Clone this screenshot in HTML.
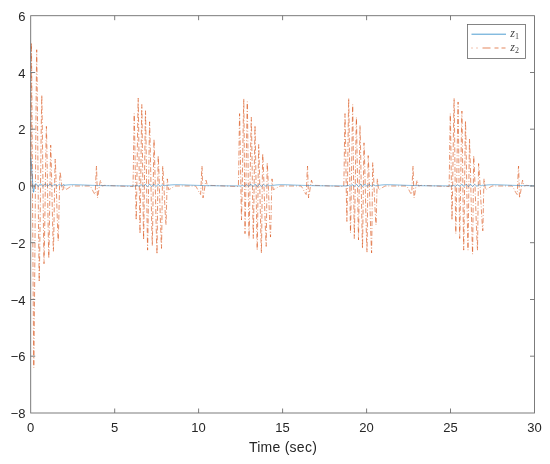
<!DOCTYPE html>
<html><head><meta charset="utf-8"><title>Figure</title>
<style>html,body{margin:0;padding:0;background:#fff;width:550px;height:464px;overflow:hidden}</style>
</head><body>
<svg width="550" height="464" viewBox="0 0 550 464" style="position:absolute;left:0;top:0">
<rect x="0" y="0" width="550" height="464" fill="#fff"/>
<g fill="none" stroke-linejoin="round">
<path d="M31.00 185.97 L31.20 114.32 L31.40 42.66 L31.67 69.56 L31.93 102.90 L32.20 141.49 L32.47 183.52 L32.73 226.73 L33.00 268.76 L33.27 307.36 L33.53 340.70 L33.80 367.59 L34.06 346.56 L34.33 321.20 L34.59 292.05 L34.85 259.95 L35.12 225.98 L35.38 191.37 L35.65 157.40 L35.91 125.30 L36.17 96.15 L36.44 70.79 L36.70 49.75 L36.95 66.83 L37.20 87.69 L37.45 111.77 L37.70 138.18 L37.95 165.82 L38.20 193.47 L38.45 219.88 L38.70 243.95 L38.95 264.81 L39.20 281.89 L39.46 268.15 L39.72 251.38 L39.98 232.01 L40.24 210.76 L40.50 188.53 L40.76 166.29 L41.02 145.04 L41.28 125.68 L41.54 108.90 L41.80 95.16 L42.07 111.10 L42.35 131.19 L42.62 154.46 L42.90 179.44 L43.17 204.43 L43.45 227.70 L43.73 247.79 L44.00 263.73 L44.27 252.36 L44.53 238.27 L44.80 221.95 L45.07 204.19 L45.33 185.92 L45.60 168.15 L45.87 151.84 L46.13 137.75 L46.40 126.38 L46.67 137.30 L46.93 150.84 L47.20 166.51 L47.47 183.58 L47.73 201.13 L48.00 218.20 L48.27 233.87 L48.53 247.41 L48.80 258.34 L49.07 245.86 L49.34 229.85 L49.61 211.39 L49.89 192.06 L50.16 173.60 L50.43 157.58 L50.70 145.11 L50.97 152.91 L51.24 162.45 L51.51 173.46 L51.78 185.54 L52.05 198.17 L52.32 210.81 L52.59 222.89 L52.86 233.90 L53.13 243.43 L53.40 251.24 L53.66 241.08 L53.91 228.04 L54.17 213.00 L54.43 197.25 L54.69 182.22 L54.94 169.17 L55.20 159.01 L55.45 163.94 L55.70 169.82 L55.95 176.54 L56.20 183.96 L56.45 191.86 L56.70 200.02 L56.95 208.18 L57.20 216.08 L57.45 223.49 L57.70 230.22 L57.95 236.09 L58.20 241.03 L58.46 233.40 L58.71 223.60 L58.97 212.32 L59.23 200.49 L59.49 189.20 L59.74 179.41 L60.00 171.78 L60.26 173.20 L60.52 174.94 L60.78 176.94 L61.04 179.13 L61.30 181.43 L61.56 183.73 L61.82 185.92 L62.08 187.93 L62.34 189.66 L62.60 191.08 L62.88 190.15 L63.16 188.92 L63.44 187.57 L63.72 186.33 L64.00 185.40 L64.25 185.96 L64.50 186.70 L64.75 187.53 L65.00 188.37 L65.25 189.10 L65.50 189.66 L65.75 189.56 L66.00 189.46 L66.25 189.34 L66.50 189.22 L66.75 189.09 L67.00 188.94 L67.25 188.80 L67.50 188.64 L67.75 188.48 L68.00 188.32 L68.25 188.16 L68.50 187.99 L68.75 187.82 L69.00 187.65 L69.25 187.48 L69.50 187.31 L69.75 187.15 L70.00 186.99 L70.25 186.83 L70.50 186.69 L70.75 186.55 L71.00 186.41 L71.25 186.29 L71.50 186.17 L71.75 186.07 L72.00 185.97 L72.25 185.97 L72.51 185.97 L72.76 185.97 L73.01 185.97 L73.27 185.97 L73.52 185.97 L73.77 185.97 L74.03 185.97 L74.28 185.97 L74.53 185.97 L74.79 185.97 L75.04 185.97 L75.29 185.97 L75.55 185.97 L75.80 185.97 L76.05 185.97 L76.31 185.97 L76.56 185.97 L76.81 185.97 L77.07 185.97 L77.32 185.97 L77.57 185.97 L77.83 185.97 L78.08 185.97 L78.33 185.97 L78.59 185.97 L78.84 185.97 L79.09 185.97 L79.35 185.97 L79.60 185.97 L79.85 185.97 L80.11 185.97 L80.36 185.97 L80.61 185.97 L80.87 185.97 L81.12 185.97 L81.37 185.97 L81.63 185.97 L81.88 185.97 L82.13 185.97 L82.39 185.97 L82.64 185.97 L82.89 185.97 L83.15 185.97 L83.40 185.97 L83.65 185.97 L83.91 185.97 L84.16 185.97 L84.41 185.97 L84.67 185.97 L84.92 185.97 L85.17 185.97 L85.42 185.97 L85.68 185.97 L85.93 185.97 L86.18 185.97 L86.44 185.97 L86.69 185.97 L86.94 185.97 L87.20 185.97 L87.45 185.97 L87.70 185.97 L87.96 185.97 L88.21 185.97 L88.46 185.97 L88.72 185.97 L88.97 185.97 L89.22 185.97 L89.48 185.97 L89.73 185.97 L89.98 185.97 L90.24 186.27 L90.49 186.60 L90.75 186.96 L91.00 187.36 L91.26 187.79 L91.51 188.25 L91.77 188.72 L92.02 189.21 L92.28 189.72 L92.53 190.23 L92.79 190.74 L93.04 191.24 L93.30 191.73 L93.55 192.21 L93.81 192.67 L94.06 193.09 L94.32 193.49 L94.57 193.86 L94.83 194.19 L95.08 194.48 L95.36 189.85 L95.64 183.67 L95.92 176.92 L96.20 170.74 L96.48 166.11 L96.73 172.90 L96.98 182.00 L97.23 191.10 L97.48 197.89 L97.73 196.83 L97.98 195.57 L98.23 194.13 L98.48 192.54 L98.73 190.84 L98.98 189.09 L99.23 187.34 L99.48 185.65 L99.73 184.06 L99.98 182.61 L100.23 181.35 L100.48 180.30 L100.73 181.04 L100.98 182.02 L101.23 183.13 L101.48 184.25 L101.73 185.22 L101.98 185.97 L102.23 185.93 L102.48 185.88 L102.73 185.82 L102.98 185.76 L103.23 185.69 L103.48 185.62 L103.73 185.56 L103.98 185.50 L104.23 185.45 L104.48 185.40 L104.73 185.41 L104.98 185.42 L105.23 185.42 L105.48 185.43 L105.74 185.44 L105.99 185.45 L106.24 185.45 L106.49 185.46 L106.74 185.47 L106.99 185.48 L107.24 185.48 L107.49 185.49 L107.74 185.50 L107.99 185.51 L108.24 185.52 L108.49 185.53 L108.74 185.54 L108.99 185.54 L109.24 185.55 L109.49 185.56 L109.74 185.57 L109.99 185.58 L110.24 185.59 L110.49 185.60 L110.74 185.61 L110.99 185.62 L111.24 185.63 L111.49 185.64 L111.74 185.65 L111.99 185.66 L112.24 185.67 L112.49 185.68 L112.74 185.69 L112.99 185.70 L113.24 185.72 L113.49 185.73 L113.74 185.74 L113.99 185.75 L114.24 185.76 L114.49 185.77 L114.74 185.78 L114.99 185.79 L115.24 185.81 L115.49 185.82 L115.74 185.83 L115.99 185.84 L116.24 185.85 L116.49 185.86 L116.74 185.88 L116.99 185.89 L117.24 185.90 L117.49 185.91 L117.74 185.92 L117.99 185.94 L118.24 185.95 L118.49 185.96 L118.74 185.97 L118.99 185.98 L119.24 186.00 L119.49 186.01 L119.74 186.02 L119.99 186.03 L120.24 186.04 L120.49 186.05 L120.74 186.07 L120.99 186.08 L121.24 186.09 L121.49 186.10 L121.74 186.11 L121.99 186.13 L122.24 186.14 L122.49 186.15 L122.74 186.16 L122.99 186.17 L123.24 186.18 L123.49 186.19 L123.74 186.20 L124.00 186.22 L124.25 186.23 L124.50 186.24 L124.75 186.25 L125.00 186.26 L125.25 186.27 L125.50 186.28 L125.75 186.29 L126.00 186.30 L126.25 186.31 L126.50 186.32 L126.75 186.33 L127.00 186.34 L127.25 186.35 L127.50 186.36 L127.75 186.37 L128.00 186.38 L128.25 186.39 L128.50 186.40 L128.75 186.41 L129.00 186.42 L129.25 186.43 L129.50 186.43 L129.75 186.44 L130.00 186.45 L130.25 186.46 L130.50 186.47 L130.75 186.47 L131.00 186.48 L131.25 186.49 L131.50 186.50 L131.75 186.50 L132.00 186.51 L132.25 186.52 L132.50 186.53 L132.75 186.53 L133.00 186.54 L133.30 170.95 L133.60 150.07 L133.90 129.20 L134.20 113.61 L134.45 123.67 L134.70 136.35 L134.95 151.04 L135.20 166.82 L135.45 182.59 L135.70 197.28 L135.95 209.96 L136.20 220.03 L136.45 208.49 L136.70 193.94 L136.95 177.10 L137.20 159.01 L137.45 140.92 L137.70 124.08 L137.95 109.54 L138.20 98.00 L138.46 112.94 L138.71 132.13 L138.97 154.24 L139.23 177.40 L139.49 199.52 L139.74 218.70 L140.00 233.65 L140.26 219.42 L140.51 201.16 L140.77 180.11 L141.03 158.06 L141.29 137.01 L141.54 118.75 L141.80 104.52 L142.06 119.44 L142.31 138.58 L142.57 160.65 L142.83 183.76 L143.09 205.83 L143.34 224.98 L143.60 239.89 L143.87 225.66 L144.14 207.40 L144.41 186.35 L144.69 164.31 L144.96 143.26 L145.23 125.00 L145.50 110.77 L145.76 123.95 L146.03 140.55 L146.29 159.78 L146.55 180.44 L146.81 201.09 L147.07 220.32 L147.34 236.93 L147.60 250.11 L147.85 237.98 L148.10 222.69 L148.35 204.98 L148.60 185.97 L148.85 166.96 L149.10 149.25 L149.35 133.97 L149.60 121.84 L149.87 130.94 L150.14 142.06 L150.41 154.89 L150.68 168.97 L150.95 183.70 L151.22 198.43 L151.49 212.51 L151.76 225.35 L152.03 236.46 L152.30 245.57 L152.58 231.54 L152.87 213.20 L153.15 192.36 L153.43 171.52 L153.72 153.17 L154.00 139.15 L154.25 146.06 L154.50 154.29 L154.75 163.71 L155.00 174.11 L155.25 185.18 L155.50 196.61 L155.75 208.04 L156.00 219.12 L156.25 229.51 L156.50 238.93 L156.75 247.17 L157.00 254.08 L157.30 233.03 L157.60 204.84 L157.90 176.66 L158.20 155.61 L158.45 160.72 L158.71 166.75 L158.96 173.61 L159.22 181.18 L159.47 189.29 L159.72 197.73 L159.98 206.28 L160.23 214.72 L160.48 222.83 L160.74 230.40 L160.99 237.26 L161.25 243.29 L161.50 248.40 L161.80 230.81 L162.10 207.26 L162.40 183.70 L162.70 166.11 L162.95 169.33 L163.21 173.12 L163.46 177.45 L163.72 182.22 L163.97 187.32 L164.22 192.64 L164.48 198.03 L164.73 203.35 L164.98 208.46 L165.24 213.22 L165.49 217.55 L165.75 221.35 L166.00 224.57 L166.26 217.10 L166.52 207.16 L166.78 196.28 L167.04 186.34 L167.30 178.88 L167.56 180.64 L167.82 182.98 L168.08 185.55 L168.34 187.90 L168.60 189.66 L168.86 189.57 L169.11 189.47 L169.37 189.36 L169.62 189.24 L169.88 189.11 L170.13 188.98 L170.39 188.84 L170.64 188.69 L170.90 188.54 L171.16 188.38 L171.41 188.22 L171.67 188.06 L171.92 187.90 L172.18 187.73 L172.43 187.57 L172.69 187.41 L172.94 187.25 L173.20 187.09 L173.46 186.94 L173.71 186.80 L173.97 186.66 L174.22 186.52 L174.48 186.40 L174.73 186.28 L174.99 186.17 L175.24 186.06 L175.50 185.97 L175.75 185.97 L176.00 185.97 L176.25 185.97 L176.50 185.97 L176.75 185.97 L177.00 185.97 L177.25 185.97 L177.50 185.97 L177.75 185.97 L178.00 185.97 L178.25 185.97 L178.50 185.97 L178.75 185.97 L179.00 185.97 L179.25 185.97 L179.50 185.97 L179.75 185.97 L180.00 185.97 L180.25 185.97 L180.50 185.97 L180.75 185.97 L181.00 185.97 L181.25 185.97 L181.50 185.97 L181.75 185.97 L182.00 185.97 L182.25 185.97 L182.50 185.97 L182.75 185.97 L183.00 185.97 L183.25 185.97 L183.50 185.97 L183.75 185.97 L184.00 185.97 L184.25 185.97 L184.50 185.97 L184.75 185.97 L185.00 185.97 L185.25 185.97 L185.50 185.97 L185.75 185.97 L186.00 185.97 L186.25 185.97 L186.50 185.97 L186.75 185.97 L187.00 185.97 L187.25 185.97 L187.50 185.97 L187.75 185.97 L188.00 185.97 L188.25 185.97 L188.50 185.97 L188.75 185.97 L189.00 185.97 L189.25 185.97 L189.50 185.97 L189.75 185.97 L190.00 185.97 L190.25 185.97 L190.50 185.97 L190.75 185.97 L191.00 185.97 L191.25 185.97 L191.50 185.97 L191.75 185.97 L192.00 185.97 L192.25 185.97 L192.50 185.97 L192.75 185.97 L193.00 185.97 L193.25 185.97 L193.50 185.97 L193.75 185.97 L194.00 185.97 L194.25 185.97 L194.50 185.97 L194.75 185.97 L195.00 185.97 L195.25 185.97 L195.50 185.97 L195.75 186.27 L196.01 186.60 L196.26 186.96 L196.52 187.36 L196.78 187.79 L197.03 188.25 L197.28 188.72 L197.54 189.21 L197.79 189.72 L198.05 190.23 L198.31 190.74 L198.56 191.24 L198.81 191.73 L199.07 192.21 L199.32 192.67 L199.58 193.09 L199.84 193.49 L200.09 193.86 L200.34 194.19 L200.60 194.48 L200.88 189.85 L201.16 183.67 L201.44 176.92 L201.72 170.74 L202.00 166.11 L202.25 172.90 L202.50 182.00 L202.75 191.10 L203.00 197.89 L203.25 196.83 L203.50 195.57 L203.75 194.13 L204.00 192.54 L204.25 190.84 L204.50 189.09 L204.75 187.34 L205.00 185.65 L205.25 184.06 L205.50 182.61 L205.75 181.35 L206.00 180.30 L206.25 181.04 L206.50 182.02 L206.75 183.13 L207.00 184.25 L207.25 185.22 L207.50 185.97 L207.75 185.93 L208.00 185.88 L208.25 185.82 L208.50 185.76 L208.75 185.69 L209.00 185.62 L209.25 185.56 L209.50 185.50 L209.75 185.45 L210.00 185.40 L210.25 185.41 L210.50 185.42 L210.75 185.42 L211.01 185.43 L211.26 185.44 L211.51 185.45 L211.76 185.45 L212.01 185.46 L212.26 185.47 L212.51 185.48 L212.76 185.48 L213.02 185.49 L213.27 185.50 L213.52 185.51 L213.77 185.52 L214.02 185.53 L214.27 185.54 L214.52 185.55 L214.78 185.55 L215.03 185.56 L215.28 185.57 L215.53 185.58 L215.78 185.59 L216.03 185.60 L216.28 185.61 L216.53 185.62 L216.79 185.63 L217.04 185.64 L217.29 185.65 L217.54 185.66 L217.79 185.68 L218.04 185.69 L218.29 185.70 L218.55 185.71 L218.80 185.72 L219.05 185.73 L219.30 185.74 L219.55 185.75 L219.80 185.76 L220.05 185.78 L220.30 185.79 L220.56 185.80 L220.81 185.81 L221.06 185.82 L221.31 185.83 L221.56 185.85 L221.81 185.86 L222.06 185.87 L222.32 185.88 L222.57 185.89 L222.82 185.91 L223.07 185.92 L223.32 185.93 L223.57 185.94 L223.82 185.95 L224.07 185.97 L224.33 185.98 L224.58 185.99 L224.83 186.00 L225.08 186.01 L225.33 186.03 L225.58 186.04 L225.83 186.05 L226.08 186.06 L226.34 186.07 L226.59 186.09 L226.84 186.10 L227.09 186.11 L227.34 186.12 L227.59 186.13 L227.84 186.14 L228.10 186.16 L228.35 186.17 L228.60 186.18 L228.85 186.19 L229.10 186.20 L229.35 186.21 L229.60 186.22 L229.85 186.23 L230.11 186.25 L230.36 186.26 L230.61 186.27 L230.86 186.28 L231.11 186.29 L231.36 186.30 L231.61 186.31 L231.87 186.32 L232.12 186.33 L232.37 186.34 L232.62 186.35 L232.87 186.36 L233.12 186.37 L233.37 186.38 L233.62 186.39 L233.88 186.40 L234.13 186.41 L234.38 186.42 L234.63 186.42 L234.88 186.43 L235.13 186.44 L235.38 186.45 L235.64 186.46 L235.89 186.47 L236.14 186.47 L236.39 186.48 L236.64 186.49 L236.89 186.50 L237.14 186.50 L237.39 186.51 L237.65 186.52 L237.90 186.53 L238.15 186.53 L238.40 186.54 L238.70 170.95 L239.00 150.07 L239.30 129.20 L239.60 113.61 L239.87 125.33 L240.14 140.38 L240.41 157.73 L240.69 175.90 L240.96 193.25 L241.23 208.30 L241.50 220.03 L241.76 210.00 L242.01 197.56 L242.27 183.17 L242.52 167.50 L242.78 151.38 L243.03 135.71 L243.29 121.31 L243.54 108.88 L243.80 98.85 L244.10 127.66 L244.40 166.25 L244.70 204.83 L245.00 233.65 L245.26 222.72 L245.51 209.18 L245.77 193.51 L246.02 176.44 L246.28 158.89 L246.53 141.83 L246.79 126.15 L247.04 112.61 L247.30 101.69 L247.58 119.71 L247.87 143.29 L248.15 170.08 L248.43 196.87 L248.72 220.45 L249.00 238.47 L249.26 228.44 L249.51 216.01 L249.77 201.61 L250.02 185.94 L250.28 169.83 L250.53 154.15 L250.79 139.76 L251.04 127.33 L251.30 117.30 L251.55 128.76 L251.80 143.20 L252.05 159.92 L252.30 177.88 L252.55 195.84 L252.80 212.57 L253.05 227.01 L253.30 238.47 L253.58 223.59 L253.87 204.12 L254.15 182.00 L254.43 159.88 L254.72 140.41 L255.00 125.53 L255.28 137.31 L255.55 152.16 L255.82 169.35 L256.10 187.82 L256.38 206.28 L256.65 223.48 L256.93 238.33 L257.20 250.11 L257.45 236.20 L257.70 218.00 L257.95 197.32 L258.20 176.65 L258.45 158.45 L258.70 144.54 L258.97 152.51 L259.24 162.25 L259.51 173.50 L259.78 185.83 L260.05 198.74 L260.32 211.65 L260.59 223.99 L260.86 235.23 L261.13 244.97 L261.40 252.94 L261.66 236.71 L261.92 215.11 L262.18 191.45 L262.44 169.85 L262.70 153.62 L262.95 158.34 L263.20 163.85 L263.45 170.09 L263.70 176.97 L263.95 184.36 L264.20 192.10 L264.45 200.02 L264.70 207.94 L264.95 215.68 L265.20 223.07 L265.45 229.95 L265.70 236.19 L265.95 241.70 L266.20 246.42 L266.45 228.52 L266.70 204.56 L266.95 180.60 L267.20 162.70 L267.45 166.80 L267.71 171.63 L267.96 177.13 L268.22 183.19 L268.47 189.69 L268.72 196.45 L268.98 203.30 L269.23 210.07 L269.48 216.56 L269.74 222.63 L269.99 228.13 L270.25 232.96 L270.50 237.05 L270.75 229.39 L271.00 219.36 L271.25 207.96 L271.50 196.57 L271.75 186.54 L272.00 178.88 L272.26 180.64 L272.52 182.98 L272.78 185.55 L273.04 187.90 L273.30 189.66 L273.56 189.57 L273.81 189.47 L274.07 189.37 L274.33 189.25 L274.59 189.13 L274.84 189.01 L275.10 188.87 L275.36 188.73 L275.61 188.59 L275.87 188.44 L276.13 188.29 L276.39 188.13 L276.64 187.97 L276.90 187.82 L277.16 187.66 L277.41 187.50 L277.67 187.35 L277.93 187.19 L278.19 187.04 L278.44 186.90 L278.70 186.76 L278.96 186.63 L279.21 186.50 L279.47 186.38 L279.73 186.26 L279.99 186.16 L280.24 186.06 L280.50 185.97 L280.75 185.97 L281.00 185.97 L281.25 185.97 L281.50 185.97 L281.75 185.97 L282.00 185.97 L282.25 185.97 L282.50 185.97 L282.75 185.97 L283.00 185.97 L283.25 185.97 L283.50 185.97 L283.75 185.97 L284.00 185.97 L284.25 185.97 L284.50 185.97 L284.75 185.97 L285.00 185.97 L285.25 185.97 L285.50 185.97 L285.75 185.97 L286.00 185.97 L286.25 185.97 L286.50 185.97 L286.75 185.97 L287.00 185.97 L287.26 185.97 L287.51 185.97 L287.76 185.97 L288.01 185.97 L288.26 185.97 L288.51 185.97 L288.76 185.97 L289.01 185.97 L289.26 185.97 L289.51 185.97 L289.76 185.97 L290.01 185.97 L290.26 185.97 L290.51 185.97 L290.76 185.97 L291.01 185.97 L291.26 185.97 L291.51 185.97 L291.76 185.97 L292.01 185.97 L292.26 185.97 L292.51 185.97 L292.76 185.97 L293.01 185.97 L293.26 185.97 L293.51 185.97 L293.76 185.97 L294.01 185.97 L294.26 185.97 L294.51 185.97 L294.76 185.97 L295.01 185.97 L295.26 185.97 L295.51 185.97 L295.76 185.97 L296.01 185.97 L296.26 185.97 L296.51 185.97 L296.76 185.97 L297.01 185.97 L297.26 185.97 L297.51 185.97 L297.76 185.97 L298.01 185.97 L298.26 185.97 L298.51 185.97 L298.76 185.97 L299.01 185.97 L299.26 185.97 L299.51 185.97 L299.76 185.97 L300.01 185.97 L300.27 185.97 L300.52 185.97 L300.77 185.97 L301.02 185.97 L301.27 186.27 L301.53 186.60 L301.78 186.96 L302.04 187.36 L302.29 187.79 L302.55 188.25 L302.80 188.72 L303.06 189.21 L303.31 189.72 L303.57 190.23 L303.82 190.74 L304.08 191.24 L304.33 191.73 L304.59 192.21 L304.84 192.67 L305.10 193.09 L305.35 193.49 L305.61 193.86 L305.86 194.19 L306.12 194.48 L306.40 189.85 L306.68 183.67 L306.96 176.92 L307.24 170.74 L307.52 166.11 L307.77 172.90 L308.02 182.00 L308.27 191.10 L308.52 197.89 L308.77 196.83 L309.02 195.57 L309.27 194.13 L309.52 192.54 L309.77 190.84 L310.02 189.09 L310.27 187.34 L310.52 185.65 L310.77 184.06 L311.02 182.61 L311.27 181.35 L311.52 180.30 L311.77 181.04 L312.02 182.02 L312.27 183.13 L312.52 184.25 L312.77 185.22 L313.02 185.97 L313.27 185.93 L313.52 185.88 L313.77 185.82 L314.02 185.76 L314.27 185.69 L314.52 185.62 L314.77 185.56 L315.02 185.50 L315.27 185.45 L315.52 185.40 L315.77 185.41 L316.02 185.42 L316.27 185.42 L316.52 185.43 L316.77 185.44 L317.02 185.45 L317.27 185.45 L317.52 185.46 L317.77 185.47 L318.02 185.48 L318.27 185.48 L318.52 185.49 L318.77 185.50 L319.02 185.51 L319.27 185.52 L319.52 185.53 L319.77 185.54 L320.02 185.55 L320.27 185.55 L320.52 185.56 L320.77 185.57 L321.02 185.58 L321.27 185.59 L321.52 185.60 L321.77 185.61 L322.02 185.62 L322.27 185.63 L322.52 185.64 L322.77 185.65 L323.02 185.66 L323.28 185.68 L323.53 185.69 L323.78 185.70 L324.03 185.71 L324.28 185.72 L324.53 185.73 L324.78 185.74 L325.03 185.75 L325.28 185.76 L325.53 185.78 L325.78 185.79 L326.03 185.80 L326.28 185.81 L326.53 185.82 L326.78 185.83 L327.03 185.85 L327.28 185.86 L327.53 185.87 L327.78 185.88 L328.03 185.89 L328.28 185.91 L328.53 185.92 L328.78 185.93 L329.03 185.94 L329.28 185.95 L329.53 185.97 L329.78 185.98 L330.03 185.99 L330.28 186.00 L330.53 186.01 L330.78 186.03 L331.03 186.04 L331.28 186.05 L331.54 186.06 L331.79 186.07 L332.04 186.09 L332.29 186.10 L332.54 186.11 L332.79 186.12 L333.04 186.13 L333.29 186.14 L333.54 186.16 L333.79 186.17 L334.04 186.18 L334.29 186.19 L334.54 186.20 L334.79 186.21 L335.04 186.22 L335.29 186.23 L335.54 186.25 L335.79 186.26 L336.04 186.27 L336.29 186.28 L336.54 186.29 L336.79 186.30 L337.04 186.31 L337.29 186.32 L337.54 186.33 L337.79 186.34 L338.04 186.35 L338.29 186.36 L338.54 186.37 L338.79 186.38 L339.04 186.39 L339.29 186.40 L339.54 186.41 L339.80 186.42 L340.05 186.42 L340.30 186.43 L340.55 186.44 L340.80 186.45 L341.05 186.46 L341.30 186.47 L341.55 186.47 L341.80 186.48 L342.05 186.49 L342.30 186.50 L342.55 186.50 L342.80 186.51 L343.05 186.52 L343.30 186.53 L343.55 186.53 L343.80 186.54 L344.10 170.95 L344.40 150.07 L344.70 129.20 L345.00 113.61 L345.27 125.49 L345.54 140.74 L345.81 158.32 L346.09 176.73 L346.36 194.31 L346.63 209.56 L346.90 221.44 L347.16 207.87 L347.41 190.46 L347.67 170.38 L347.93 149.35 L348.19 129.27 L348.44 111.85 L348.70 98.28 L348.96 113.10 L349.21 132.13 L349.47 154.06 L349.73 177.02 L349.99 198.95 L350.24 217.97 L350.50 232.80 L350.77 220.67 L351.05 205.38 L351.32 187.67 L351.60 168.66 L351.88 149.65 L352.15 131.94 L352.43 116.66 L352.70 104.52 L352.97 122.18 L353.23 145.27 L353.50 171.50 L353.77 197.73 L354.03 220.82 L354.30 238.47 L354.56 227.01 L354.82 212.57 L355.09 195.84 L355.35 177.88 L355.61 159.92 L355.88 143.20 L356.14 128.76 L356.40 117.30 L356.66 128.89 L356.92 143.50 L357.19 160.42 L357.45 178.59 L357.71 196.76 L357.98 213.69 L358.24 228.30 L358.50 239.89 L358.75 224.82 L359.00 205.10 L359.25 182.71 L359.50 160.31 L359.75 140.60 L360.00 125.53 L360.25 134.56 L360.50 145.61 L360.75 158.35 L361.00 172.33 L361.25 186.96 L361.50 201.60 L361.75 215.58 L362.00 228.32 L362.25 239.36 L362.50 248.40 L362.75 234.49 L363.00 216.29 L363.25 195.62 L363.50 174.95 L363.75 156.75 L364.00 142.84 L364.25 149.41 L364.50 157.23 L364.75 166.19 L365.00 176.07 L365.25 186.60 L365.50 197.46 L365.75 208.33 L366.00 218.86 L366.25 228.74 L366.50 237.70 L366.75 245.52 L367.00 252.09 L367.30 231.47 L367.60 203.85 L367.90 176.23 L368.20 155.61 L368.46 160.97 L368.72 167.29 L368.98 174.49 L369.25 182.43 L369.51 190.93 L369.77 199.79 L370.03 208.76 L370.29 217.62 L370.55 226.12 L370.82 234.06 L371.08 241.26 L371.34 247.58 L371.60 252.94 L371.88 233.65 L372.15 207.82 L372.43 181.99 L372.70 162.70 L372.95 166.12 L373.21 170.16 L373.46 174.76 L373.72 179.83 L373.97 185.26 L374.22 190.91 L374.48 196.64 L374.73 202.29 L374.98 207.72 L375.24 212.79 L375.49 217.39 L375.75 221.43 L376.00 224.85 L376.26 217.34 L376.52 207.34 L376.78 196.39 L377.04 186.39 L377.30 178.88 L377.56 180.64 L377.82 182.98 L378.08 185.55 L378.34 187.90 L378.60 189.66 L378.86 189.57 L379.11 189.47 L379.37 189.36 L379.62 189.24 L379.88 189.11 L380.13 188.98 L380.39 188.84 L380.64 188.69 L380.90 188.54 L381.16 188.38 L381.41 188.22 L381.67 188.06 L381.92 187.90 L382.18 187.73 L382.43 187.57 L382.69 187.41 L382.94 187.25 L383.20 187.09 L383.46 186.94 L383.71 186.80 L383.97 186.66 L384.22 186.52 L384.48 186.40 L384.73 186.28 L384.99 186.17 L385.24 186.06 L385.50 185.97 L385.75 185.97 L386.00 185.97 L386.25 185.97 L386.50 185.97 L386.75 185.97 L387.00 185.97 L387.25 185.97 L387.50 185.97 L387.75 185.97 L388.00 185.97 L388.25 185.97 L388.50 185.97 L388.75 185.97 L389.01 185.97 L389.26 185.97 L389.51 185.97 L389.76 185.97 L390.01 185.97 L390.26 185.97 L390.51 185.97 L390.76 185.97 L391.01 185.97 L391.26 185.97 L391.51 185.97 L391.76 185.97 L392.01 185.97 L392.26 185.97 L392.51 185.97 L392.76 185.97 L393.01 185.97 L393.26 185.97 L393.51 185.97 L393.76 185.97 L394.01 185.97 L394.26 185.97 L394.51 185.97 L394.76 185.97 L395.01 185.97 L395.26 185.97 L395.51 185.97 L395.77 185.97 L396.02 185.97 L396.27 185.97 L396.52 185.97 L396.77 185.97 L397.02 185.97 L397.27 185.97 L397.52 185.97 L397.77 185.97 L398.02 185.97 L398.27 185.97 L398.52 185.97 L398.77 185.97 L399.02 185.97 L399.27 185.97 L399.52 185.97 L399.77 185.97 L400.02 185.97 L400.27 185.97 L400.52 185.97 L400.77 185.97 L401.02 185.97 L401.27 185.97 L401.52 185.97 L401.77 185.97 L402.02 185.97 L402.27 185.97 L402.53 185.97 L402.78 185.97 L403.03 185.97 L403.28 185.97 L403.53 185.97 L403.78 185.97 L404.03 185.97 L404.28 185.97 L404.53 185.97 L404.78 185.97 L405.03 185.97 L405.28 185.97 L405.53 185.97 L405.78 185.97 L406.03 185.97 L406.28 185.97 L406.53 185.97 L406.79 186.27 L407.04 186.60 L407.30 186.96 L407.55 187.36 L407.81 187.79 L408.06 188.25 L408.32 188.72 L408.57 189.21 L408.83 189.72 L409.08 190.23 L409.34 190.74 L409.59 191.24 L409.85 191.73 L410.10 192.21 L410.36 192.67 L410.61 193.09 L410.87 193.49 L411.12 193.86 L411.38 194.19 L411.63 194.48 L411.91 189.85 L412.19 183.67 L412.47 176.92 L412.75 170.74 L413.03 166.11 L413.28 172.90 L413.53 182.00 L413.78 191.10 L414.03 197.89 L414.28 196.83 L414.53 195.57 L414.78 194.13 L415.03 192.54 L415.28 190.84 L415.53 189.09 L415.78 187.34 L416.03 185.65 L416.28 184.06 L416.53 182.61 L416.78 181.35 L417.03 180.30 L417.28 181.04 L417.53 182.02 L417.78 183.13 L418.03 184.25 L418.28 185.22 L418.53 185.97 L418.78 185.93 L419.03 185.88 L419.28 185.82 L419.53 185.76 L419.78 185.69 L420.03 185.62 L420.28 185.56 L420.53 185.50 L420.78 185.45 L421.03 185.40 L421.28 185.41 L421.53 185.42 L421.78 185.42 L422.03 185.43 L422.28 185.44 L422.53 185.45 L422.79 185.45 L423.04 185.46 L423.29 185.47 L423.54 185.48 L423.79 185.49 L424.04 185.49 L424.29 185.50 L424.54 185.51 L424.79 185.52 L425.04 185.53 L425.29 185.54 L425.54 185.55 L425.79 185.56 L426.04 185.57 L426.29 185.58 L426.54 185.59 L426.80 185.60 L427.05 185.61 L427.30 185.62 L427.55 185.63 L427.80 185.64 L428.05 185.65 L428.30 185.66 L428.55 185.67 L428.80 185.68 L429.05 185.69 L429.30 185.70 L429.55 185.71 L429.80 185.72 L430.05 185.73 L430.30 185.75 L430.55 185.76 L430.81 185.77 L431.06 185.78 L431.31 185.79 L431.56 185.80 L431.81 185.81 L432.06 185.83 L432.31 185.84 L432.56 185.85 L432.81 185.86 L433.06 185.87 L433.31 185.89 L433.56 185.90 L433.81 185.91 L434.06 185.92 L434.31 185.93 L434.56 185.95 L434.82 185.96 L435.07 185.97 L435.32 185.98 L435.57 186.00 L435.82 186.01 L436.07 186.02 L436.32 186.03 L436.57 186.04 L436.82 186.06 L437.07 186.07 L437.32 186.08 L437.57 186.09 L437.82 186.10 L438.07 186.12 L438.32 186.13 L438.57 186.14 L438.82 186.15 L439.08 186.16 L439.33 186.17 L439.58 186.19 L439.83 186.20 L440.08 186.21 L440.33 186.22 L440.58 186.23 L440.83 186.24 L441.08 186.25 L441.33 186.26 L441.58 186.28 L441.83 186.29 L442.08 186.30 L442.33 186.31 L442.58 186.32 L442.83 186.33 L443.09 186.34 L443.34 186.35 L443.59 186.36 L443.84 186.37 L444.09 186.38 L444.34 186.39 L444.59 186.40 L444.84 186.40 L445.09 186.41 L445.34 186.42 L445.59 186.43 L445.84 186.44 L446.09 186.45 L446.34 186.46 L446.59 186.47 L446.84 186.47 L447.10 186.48 L447.35 186.49 L447.60 186.50 L447.85 186.50 L448.10 186.51 L448.35 186.52 L448.60 186.53 L448.85 186.53 L449.10 186.54 L449.40 170.95 L449.70 150.07 L450.00 129.20 L450.30 113.61 L450.58 127.63 L450.87 145.98 L451.15 166.82 L451.43 187.66 L451.72 206.00 L452.00 220.03 L452.26 208.51 L452.52 194.00 L452.79 177.20 L453.05 159.15 L453.31 141.11 L453.58 124.31 L453.84 109.80 L454.10 98.28 L454.38 116.12 L454.67 139.46 L454.95 165.96 L455.23 192.47 L455.52 215.81 L455.80 233.65 L456.06 222.75 L456.31 209.24 L456.57 193.60 L456.82 176.57 L457.08 159.05 L457.33 142.02 L457.59 126.38 L457.84 112.87 L458.10 101.97 L458.37 119.96 L458.63 143.49 L458.90 170.22 L459.17 196.95 L459.43 220.48 L459.70 238.47 L459.97 226.42 L460.25 211.24 L460.52 193.65 L460.80 174.76 L461.07 155.88 L461.35 138.29 L461.62 123.10 L461.90 111.05 L462.16 126.37 L462.41 146.04 L462.67 168.71 L462.93 192.45 L463.19 215.12 L463.44 234.78 L463.70 250.11 L463.96 235.88 L464.21 217.62 L464.47 196.57 L464.73 174.52 L464.99 153.47 L465.24 135.21 L465.50 120.98 L465.75 130.48 L466.00 142.09 L466.25 155.48 L466.50 170.17 L466.75 185.55 L467.00 200.92 L467.25 215.61 L467.50 229.01 L467.75 240.61 L468.00 250.11 L468.25 235.48 L468.50 216.36 L468.75 194.63 L469.00 172.90 L469.25 153.77 L469.50 139.15 L469.76 146.06 L470.02 154.29 L470.27 163.71 L470.53 174.11 L470.79 185.18 L471.05 196.61 L471.31 208.04 L471.57 219.12 L471.83 229.51 L472.08 238.93 L472.34 247.17 L472.60 254.08 L472.88 233.03 L473.15 204.84 L473.43 176.66 L473.70 155.61 L473.95 160.06 L474.21 165.23 L474.46 171.05 L474.71 177.46 L474.97 184.35 L475.22 191.60 L475.47 199.08 L475.73 206.63 L475.98 214.11 L476.23 221.36 L476.49 228.26 L476.74 234.66 L476.99 240.49 L477.25 245.65 L477.50 250.11 L477.77 231.61 L478.05 206.83 L478.33 182.05 L478.60 163.55 L478.86 166.51 L479.12 169.91 L479.39 173.73 L479.65 177.93 L479.91 182.44 L480.18 187.21 L480.44 192.15 L480.70 197.18 L480.96 202.21 L481.23 207.15 L481.49 211.92 L481.75 216.43 L482.01 220.63 L482.28 224.45 L482.54 227.85 L482.80 230.81 L483.10 219.71 L483.40 204.84 L483.70 189.98 L484.00 178.88 L484.25 180.30 L484.50 182.16 L484.75 184.27 L485.00 186.38 L485.25 188.24 L485.50 189.66 L485.75 189.57 L486.00 189.47 L486.25 189.37 L486.50 189.25 L486.75 189.13 L487.00 189.01 L487.25 188.87 L487.50 188.73 L487.75 188.59 L488.00 188.44 L488.25 188.29 L488.50 188.13 L488.75 187.97 L489.00 187.82 L489.25 187.66 L489.50 187.50 L489.75 187.35 L490.00 187.19 L490.25 187.04 L490.50 186.90 L490.75 186.76 L491.00 186.63 L491.25 186.50 L491.50 186.38 L491.75 186.26 L492.00 186.16 L492.25 186.06 L492.50 185.97 L492.75 185.97 L493.00 185.97 L493.25 185.97 L493.50 185.97 L493.75 185.97 L494.00 185.97 L494.25 185.97 L494.50 185.97 L494.76 185.97 L495.01 185.97 L495.26 185.97 L495.51 185.97 L495.76 185.97 L496.01 185.97 L496.26 185.97 L496.51 185.97 L496.76 185.97 L497.01 185.97 L497.26 185.97 L497.51 185.97 L497.76 185.97 L498.01 185.97 L498.26 185.97 L498.51 185.97 L498.77 185.97 L499.02 185.97 L499.27 185.97 L499.52 185.97 L499.77 185.97 L500.02 185.97 L500.27 185.97 L500.52 185.97 L500.77 185.97 L501.02 185.97 L501.27 185.97 L501.52 185.97 L501.77 185.97 L502.02 185.97 L502.27 185.97 L502.52 185.97 L502.77 185.97 L503.03 185.97 L503.28 185.97 L503.53 185.97 L503.78 185.97 L504.03 185.97 L504.28 185.97 L504.53 185.97 L504.78 185.97 L505.03 185.97 L505.28 185.97 L505.53 185.97 L505.78 185.97 L506.03 185.97 L506.28 185.97 L506.53 185.97 L506.78 185.97 L507.03 185.97 L507.29 185.97 L507.54 185.97 L507.79 185.97 L508.04 185.97 L508.29 185.97 L508.54 185.97 L508.79 185.97 L509.04 185.97 L509.29 185.97 L509.54 185.97 L509.79 185.97 L510.04 185.97 L510.29 185.97 L510.54 185.97 L510.79 185.97 L511.04 185.97 L511.30 185.97 L511.55 185.97 L511.80 185.97 L512.05 185.97 L512.30 186.27 L512.56 186.60 L512.81 186.96 L513.07 187.36 L513.32 187.79 L513.58 188.25 L513.83 188.72 L514.09 189.21 L514.34 189.72 L514.60 190.23 L514.85 190.74 L515.11 191.24 L515.36 191.73 L515.62 192.21 L515.87 192.67 L516.13 193.09 L516.38 193.49 L516.64 193.86 L516.89 194.19 L517.15 194.48 L517.43 189.85 L517.71 183.67 L517.99 176.92 L518.27 170.74 L518.55 166.11 L518.80 172.90 L519.05 182.00 L519.30 191.10 L519.55 197.89 L519.80 196.83 L520.05 195.57 L520.30 194.13 L520.55 192.54 L520.80 190.84 L521.05 189.09 L521.30 187.34 L521.55 185.65 L521.80 184.06 L522.05 182.61 L522.30 181.35 L522.55 180.30 L522.80 181.04 L523.05 182.02 L523.30 183.13 L523.55 184.25 L523.80 185.22 L524.05 185.97 L524.30 185.93 L524.55 185.88 L524.80 185.82 L525.05 185.76 L525.30 185.69 L525.55 185.62 L525.80 185.56 L526.05 185.50 L526.30 185.45 L526.55 185.40 L526.80 185.42 L527.06 185.43 L527.32 185.44 L527.57 185.46 L527.83 185.48 L528.09 185.49 L528.34 185.51 L528.60 185.53 L528.86 185.55 L529.11 185.57 L529.37 185.59 L529.63 185.61 L529.88 185.63 L530.14 185.65 L530.40 185.68 L530.65 185.70 L530.91 185.72 L531.16 185.74 L531.42 185.76 L531.68 185.78 L531.93 185.81 L532.19 185.83 L532.45 185.85 L532.70 185.86 L532.96 185.88 L533.22 185.90 L533.47 185.92 L533.73 185.93 L533.99 185.95 L534.24 185.96 L534.50 185.97" stroke="#D95319" stroke-width="0.64" stroke-dasharray="5 2 0.8 2"/>
<path d="M30.70 157.59 L30.90 159.35 L31.10 161.41 L31.30 163.74 L31.50 166.30 L31.70 169.06 L31.90 171.95 L32.10 174.90 L32.30 177.86 L32.50 180.75 L32.70 183.50 L32.90 186.07 L33.10 188.40 L33.30 190.46 L33.50 192.21 L33.80 191.30 L34.10 189.17 L34.40 187.03 L34.70 185.53 L35.00 184.61 L35.30 184.05 L35.60 183.74 L35.90 183.67 L36.20 183.83 L36.50 184.19 L36.80 184.69 L37.10 185.25 L37.40 185.78 L37.70 186.19 L38.00 186.43 L38.30 186.46 L38.60 186.28 L38.90 185.92 L39.20 185.44 L39.50 184.92 L39.80 184.43 L40.10 184.07 L40.40 183.88 L40.70 183.88 L41.00 184.08 L41.30 184.44 L41.60 184.90 L41.90 185.39 L42.20 185.82 L42.50 186.14 L42.80 186.29 L43.10 186.25 L43.40 186.04 L43.70 185.69 L44.00 185.25 L44.30 184.80 L44.60 184.41 L44.90 184.13 L45.20 184.02 L45.50 184.08 L45.80 184.31 L46.10 184.66 L46.40 185.07 L46.70 185.48 L47.00 185.84 L47.30 186.07 L47.60 186.15 L47.90 186.06 L48.20 185.83 L48.50 185.49 L48.80 185.10 L49.10 184.72 L49.40 184.41 L49.70 184.21 L50.00 184.17 L50.30 184.27 L50.60 184.50 L50.90 184.83 L51.20 185.20 L51.50 185.55 L51.80 185.82 L52.10 185.98 L52.40 186.00 L52.70 185.89 L53.00 185.65 L53.30 185.34 L53.60 184.99 L53.90 184.68 L54.20 184.43 L54.50 184.30 L54.80 184.31 L55.10 184.43 L55.40 184.67 L55.70 184.97 L56.00 185.29 L56.30 185.58 L56.60 185.79 L56.90 185.89 L57.20 185.87 L57.50 185.73 L57.80 185.50 L58.10 185.21 L58.40 184.91 L58.70 184.66 L59.00 184.48 L59.30 184.40 L59.60 184.44 L59.90 184.58 L60.20 184.81 L60.50 185.08 L60.80 185.35 L61.10 185.59 L61.40 185.74 L61.70 185.79 L62.00 185.74 L62.30 185.59 L62.60 185.37 L62.90 185.11 L63.20 184.86 L63.50 184.66 L63.80 184.53 L64.10 184.49 L64.40 185.38 L64.70 185.32 L65.00 185.26 L65.30 185.21 L65.60 185.16 L65.90 185.12 L66.20 185.08 L66.50 185.04 L66.80 185.00 L67.10 184.97 L67.40 184.93 L67.70 184.91 L68.00 184.88 L68.30 184.86 L68.60 184.83 L68.90 184.81 L69.20 184.80 L69.50 184.78 L69.80 184.77 L70.10 184.75 L70.40 184.74 L70.70 184.73 L71.00 184.72 L71.30 184.72 L71.60 184.71 L71.90 184.71 L72.20 184.71 L72.50 184.70 L72.80 184.70 L73.10 184.70 L73.40 184.70 L73.70 184.71 L74.00 184.71 L74.30 184.71 L74.60 184.72 L74.90 184.72 L75.20 184.73 L75.50 184.73 L75.80 184.74 L76.10 184.75 L76.40 184.76 L76.70 184.76 L77.00 184.77 L77.30 184.78 L77.60 184.79 L77.90 184.80 L78.20 184.81 L78.50 184.82 L78.80 184.83 L79.10 184.84 L79.40 184.85 L79.70 184.86 L80.00 184.88 L80.30 184.89 L80.60 184.90 L80.90 184.91 L81.20 184.92 L81.50 184.93 L81.80 184.95 L82.10 184.96 L82.40 184.97 L82.70 184.98 L83.00 184.99 L83.30 185.01 L83.60 185.02 L83.90 185.03 L84.20 185.04 L84.50 185.06 L84.80 185.07 L85.10 185.08 L85.40 185.09 L85.70 185.10 L86.00 185.12 L86.30 185.13 L86.60 185.14 L86.90 185.15 L87.20 185.16 L87.50 185.18 L87.80 185.19 L88.10 185.20 L88.40 185.21 L88.70 185.22 L89.00 185.23 L89.30 185.24 L89.60 185.25 L89.90 185.27 L90.20 185.28 L90.50 185.29 L90.80 185.30 L91.10 185.31 L91.40 185.32 L91.70 185.33 L92.00 185.34 L92.30 185.35 L92.60 185.36 L92.90 185.37 L93.20 185.38 L93.50 185.39 L93.80 185.40 L94.10 185.40 L94.40 185.41 L94.70 185.42 L95.00 185.43 L95.30 185.44 L95.60 185.45 L95.90 185.46 L96.20 185.47 L96.50 185.47 L96.80 185.48 L97.10 185.49 L97.40 185.50 L97.70 185.50 L98.00 185.51 L98.30 185.52 L98.60 185.53 L98.90 185.53 L99.20 185.54 L99.50 185.55 L99.80 185.56 L100.10 185.56 L100.40 185.57 L100.70 185.58 L101.00 185.58 L101.30 185.59 L101.60 185.60 L101.90 185.60 L102.20 185.61 L102.50 185.61 L102.80 185.62 L103.10 185.62 L103.40 185.63 L103.70 185.64 L104.00 185.64 L104.30 185.65 L104.60 185.65 L104.90 185.66 L105.20 185.66 L105.50 185.67 L105.80 185.67 L106.10 185.68 L106.40 185.68 L106.70 185.69 L107.00 185.69 L107.30 185.70 L107.60 185.70 L107.90 185.71 L108.20 185.71 L108.50 185.71 L108.80 185.72 L109.10 185.72 L109.40 185.73 L109.70 185.73 L110.00 185.73 L110.30 185.74 L110.60 185.74 L110.90 185.75 L111.20 185.75 L111.50 185.75 L111.80 185.76 L112.10 185.76 L112.40 185.76 L112.70 185.77 L113.00 185.77 L113.30 185.77 L113.60 185.78 L113.90 185.78 L114.20 185.78 L114.50 185.78 L114.80 185.79 L115.10 185.79 L115.40 185.79 L115.70 185.80 L116.00 185.80 L116.30 185.80 L116.60 185.80 L116.90 185.81 L117.20 185.81 L117.50 185.81 L117.80 185.81 L118.10 185.82 L118.40 185.82 L118.70 185.82 L119.00 185.82 L119.30 185.83 L119.60 185.83 L119.90 185.83 L120.20 185.83 L120.50 185.83 L120.80 185.84 L121.10 185.84 L121.40 185.84 L121.70 185.84 L122.00 185.84 L122.30 185.85 L122.60 185.85 L122.90 185.85 L123.20 185.85 L123.50 185.85 L123.80 185.85 L124.10 185.86 L124.40 185.86 L124.70 185.86 L125.00 185.86 L125.30 185.86 L125.60 185.86 L125.90 185.87 L126.20 185.87 L126.50 185.87 L126.80 185.87 L127.10 185.87 L127.40 185.87 L127.70 185.87 L128.00 185.88 L128.30 185.88 L128.60 185.88 L128.90 185.88 L129.20 185.88 L129.50 185.88 L129.80 185.88 L130.10 185.89 L130.40 185.89 L130.70 185.89 L131.00 185.89 L131.30 185.89 L131.60 185.89 L131.90 185.89 L132.20 185.89 L132.50 185.89 L132.80 185.90 L133.10 185.90 L133.40 185.90 L133.70 185.96 L134.00 185.97 L134.30 186.00 L134.60 186.01 L134.90 186.00 L135.20 185.96 L135.50 185.87 L135.80 185.75 L136.10 185.62 L136.40 185.50 L136.70 185.42 L137.00 185.41 L137.30 185.46 L137.60 185.59 L137.90 185.75 L138.20 185.93 L138.50 186.07 L138.80 186.14 L139.10 186.11 L139.40 185.98 L139.70 185.75 L140.00 185.46 L140.30 185.16 L140.60 184.92 L140.90 184.77 L141.20 184.75 L141.50 184.86 L141.80 185.10 L142.10 185.44 L142.40 185.78 L142.70 186.08 L143.00 186.25 L143.30 186.27 L143.60 186.12 L143.90 185.82 L144.20 185.44 L144.50 185.03 L144.80 184.68 L145.10 184.45 L145.40 184.41 L145.70 184.56 L146.00 184.87 L146.30 185.29 L146.60 185.75 L146.90 186.15 L147.20 186.41 L147.50 186.49 L147.80 186.36 L148.10 186.04 L148.40 185.60 L148.70 185.12 L149.00 184.68 L149.30 184.38 L149.60 184.27 L149.90 184.38 L150.20 184.68 L150.50 185.12 L150.80 185.62 L151.10 186.07 L151.40 186.39 L151.70 186.53 L152.00 186.45 L152.30 186.18 L152.60 185.76 L152.90 185.28 L153.20 184.82 L153.50 184.48 L153.80 184.32 L154.10 184.37 L154.40 184.61 L154.70 185.00 L155.00 185.45 L155.30 185.88 L155.60 186.22 L155.90 186.39 L156.20 186.37 L156.50 186.17 L156.80 185.84 L157.10 185.43 L157.40 185.03 L157.70 184.72 L158.00 184.55 L158.30 184.54 L158.60 184.70 L158.90 184.98 L159.20 185.32 L159.50 185.66 L159.80 185.94 L160.10 186.10 L160.40 186.12 L160.70 186.01 L161.00 185.79 L161.30 185.52 L161.60 185.24 L161.90 185.02 L162.20 184.89 L162.50 184.87 L162.80 184.94 L163.10 185.10 L163.40 185.29 L163.70 185.48 L164.00 185.64 L164.30 185.73 L164.60 185.74 L164.90 185.69 L165.20 185.59 L165.50 185.48 L165.80 185.38 L166.10 185.31 L166.40 185.27 L166.70 185.28 L167.00 185.31 L167.30 185.36 L167.60 185.39 L167.90 185.40 L168.20 185.34 L168.50 185.29 L168.80 185.23 L169.10 185.18 L169.40 185.13 L169.70 185.09 L170.00 185.05 L170.30 185.01 L170.60 184.98 L170.90 184.95 L171.20 184.92 L171.50 184.89 L171.80 184.86 L172.10 184.84 L172.40 184.82 L172.70 184.80 L173.00 184.79 L173.30 184.77 L173.60 184.76 L173.90 184.75 L174.20 184.74 L174.50 184.73 L174.80 184.72 L175.10 184.71 L175.40 184.71 L175.70 184.71 L176.00 184.70 L176.30 184.70 L176.60 184.70 L176.90 184.70 L177.20 184.71 L177.50 184.71 L177.80 184.71 L178.10 184.72 L178.40 184.72 L178.70 184.73 L179.00 184.73 L179.30 184.74 L179.60 184.74 L179.90 184.75 L180.20 184.76 L180.50 184.77 L180.80 184.78 L181.10 184.79 L181.40 184.80 L181.70 184.81 L182.00 184.82 L182.30 184.83 L182.60 184.84 L182.90 184.85 L183.20 184.86 L183.50 184.87 L183.80 184.88 L184.10 184.89 L184.40 184.91 L184.70 184.92 L185.00 184.93 L185.30 184.94 L185.60 184.95 L185.90 184.97 L186.20 184.98 L186.50 184.99 L186.80 185.00 L187.10 185.01 L187.40 185.03 L187.70 185.04 L188.00 185.05 L188.30 185.06 L188.60 185.08 L188.90 185.09 L189.20 185.10 L189.50 185.11 L189.80 185.12 L190.10 185.14 L190.40 185.15 L190.70 185.16 L191.00 185.17 L191.30 185.18 L191.60 185.19 L191.90 185.21 L192.20 185.22 L192.50 185.23 L192.80 185.24 L193.10 185.25 L193.40 185.26 L193.70 185.27 L194.00 185.28 L194.30 185.29 L194.60 185.30 L194.90 185.31 L195.20 185.32 L195.50 185.33 L195.80 185.34 L196.10 185.35 L196.40 185.36 L196.70 185.37 L197.00 185.38 L197.30 185.39 L197.60 185.40 L197.90 185.41 L198.20 185.42 L198.50 185.43 L198.80 185.44 L199.10 185.45 L199.40 185.45 L199.70 185.46 L200.00 185.47 L200.30 185.48 L200.60 185.49 L200.90 185.49 L201.20 185.50 L201.50 185.51 L201.80 185.52 L202.10 185.52 L202.40 185.53 L202.70 185.54 L203.00 185.55 L203.30 185.55 L203.60 185.56 L203.90 185.57 L204.20 185.57 L204.50 185.58 L204.80 185.59 L205.10 185.59 L205.40 185.60 L205.70 185.60 L206.00 185.61 L206.30 185.62 L206.60 185.62 L206.90 185.63 L207.20 185.63 L207.50 185.64 L207.80 185.65 L208.10 185.65 L208.40 185.66 L208.70 185.66 L209.00 185.67 L209.30 185.67 L209.60 185.68 L209.90 185.68 L210.20 185.69 L210.50 185.69 L210.80 185.69 L211.10 185.70 L211.40 185.70 L211.70 185.71 L212.00 185.71 L212.30 185.72 L212.60 185.72 L212.90 185.72 L213.20 185.73 L213.50 185.73 L213.80 185.74 L214.10 185.74 L214.40 185.74 L214.70 185.75 L215.00 185.75 L215.30 185.75 L215.60 185.76 L215.90 185.76 L216.20 185.76 L216.50 185.77 L216.80 185.77 L217.10 185.77 L217.40 185.78 L217.70 185.78 L218.00 185.78 L218.30 185.79 L218.60 185.79 L218.90 185.79 L219.20 185.79 L219.50 185.80 L219.80 185.80 L220.10 185.80 L220.40 185.81 L220.70 185.81 L221.00 185.81 L221.30 185.81 L221.60 185.82 L221.90 185.82 L222.20 185.82 L222.50 185.82 L222.80 185.82 L223.10 185.83 L223.40 185.83 L223.70 185.83 L224.00 185.83 L224.30 185.84 L224.60 185.84 L224.90 185.84 L225.20 185.84 L225.50 185.84 L225.80 185.85 L226.10 185.85 L226.40 185.85 L226.70 185.85 L227.00 185.85 L227.30 185.85 L227.60 185.86 L227.90 185.86 L228.20 185.86 L228.50 185.86 L228.80 185.86 L229.10 185.86 L229.40 185.87 L229.70 185.87 L230.00 185.87 L230.30 185.87 L230.60 185.87 L230.90 185.87 L231.20 185.87 L231.50 185.88 L231.80 185.88 L232.10 185.88 L232.40 185.88 L232.70 185.88 L233.00 185.88 L233.30 185.88 L233.60 185.88 L233.90 185.89 L234.20 185.89 L234.50 185.89 L234.80 185.89 L235.10 185.89 L235.40 185.89 L235.70 185.89 L236.00 185.89 L236.30 185.89 L236.60 185.90 L236.90 185.90 L237.20 185.90 L237.50 185.90 L237.80 185.90 L238.10 185.90 L238.40 185.90 L238.70 185.90 L239.00 185.97 L239.30 185.96 L239.60 185.98 L239.90 186.00 L240.20 186.01 L240.50 185.99 L240.80 185.94 L241.10 185.84 L241.40 185.72 L241.70 185.59 L242.00 185.48 L242.30 185.41 L242.60 185.42 L242.90 185.49 L243.20 185.63 L243.50 185.80 L243.80 185.97 L244.10 186.10 L244.40 186.14 L244.70 186.08 L245.00 185.92 L245.30 185.67 L245.60 185.37 L245.90 185.09 L246.20 184.86 L246.50 184.75 L246.80 184.77 L247.10 184.92 L247.40 185.19 L247.70 185.53 L248.00 185.87 L248.30 186.14 L248.60 186.27 L248.90 186.24 L249.20 186.05 L249.50 185.72 L249.80 185.32 L250.10 184.92 L250.40 184.60 L250.70 184.42 L251.00 184.43 L251.30 184.63 L251.60 184.98 L251.90 185.42 L252.20 185.87 L252.50 186.24 L252.80 186.45 L253.10 186.47 L253.40 186.29 L253.70 185.93 L254.00 185.47 L254.30 184.99 L254.60 184.58 L254.90 184.33 L255.20 184.28 L255.50 184.45 L255.80 184.80 L256.10 185.26 L256.40 185.75 L256.70 186.18 L257.00 186.45 L257.30 186.53 L257.60 186.40 L257.90 186.07 L258.20 185.63 L258.50 185.14 L258.80 184.71 L259.10 184.42 L259.40 184.32 L259.70 184.42 L260.00 184.71 L260.30 185.12 L260.60 185.58 L260.90 185.99 L261.20 186.28 L261.50 186.40 L261.80 186.33 L262.10 186.09 L262.40 185.73 L262.70 185.32 L263.00 184.94 L263.30 184.66 L263.60 184.53 L263.90 184.57 L264.20 184.77 L264.50 185.07 L264.80 185.42 L265.10 185.75 L265.40 186.00 L265.70 186.12 L266.00 186.10 L266.30 185.95 L266.60 185.71 L266.90 185.44 L267.20 185.17 L267.50 184.97 L267.80 184.87 L268.10 184.88 L268.40 184.98 L268.70 185.15 L269.00 185.35 L269.30 185.53 L269.60 185.67 L269.90 185.74 L270.20 185.73 L270.50 185.67 L270.80 185.56 L271.10 185.45 L271.40 185.35 L271.70 185.29 L272.00 185.27 L272.30 185.29 L272.60 185.33 L272.90 185.37 L273.20 185.40 L273.50 185.39 L273.80 185.33 L274.10 185.27 L274.40 185.22 L274.70 185.17 L275.00 185.12 L275.30 185.08 L275.60 185.04 L275.90 185.00 L276.20 184.97 L276.50 184.94 L276.80 184.91 L277.10 184.88 L277.40 184.86 L277.70 184.84 L278.00 184.82 L278.30 184.80 L278.60 184.78 L278.90 184.77 L279.20 184.75 L279.50 184.74 L279.80 184.73 L280.10 184.73 L280.40 184.72 L280.70 184.71 L281.00 184.71 L281.30 184.71 L281.60 184.70 L281.90 184.70 L282.20 184.70 L282.50 184.70 L282.80 184.71 L283.10 184.71 L283.40 184.71 L283.70 184.72 L284.00 184.72 L284.30 184.73 L284.60 184.73 L284.90 184.74 L285.20 184.75 L285.50 184.75 L285.80 184.76 L286.10 184.77 L286.40 184.78 L286.70 184.79 L287.00 184.80 L287.30 184.81 L287.60 184.82 L287.90 184.83 L288.20 184.84 L288.50 184.85 L288.80 184.86 L289.10 184.87 L289.40 184.89 L289.70 184.90 L290.00 184.91 L290.30 184.92 L290.60 184.93 L290.90 184.94 L291.20 184.96 L291.50 184.97 L291.80 184.98 L292.10 184.99 L292.40 185.01 L292.70 185.02 L293.00 185.03 L293.30 185.04 L293.60 185.05 L293.90 185.07 L294.20 185.08 L294.50 185.09 L294.80 185.10 L295.10 185.12 L295.40 185.13 L295.70 185.14 L296.00 185.15 L296.30 185.16 L296.60 185.17 L296.90 185.19 L297.20 185.20 L297.50 185.21 L297.80 185.22 L298.10 185.23 L298.40 185.24 L298.70 185.25 L299.00 185.26 L299.30 185.27 L299.60 185.29 L299.90 185.30 L300.20 185.31 L300.50 185.32 L300.80 185.33 L301.10 185.34 L301.40 185.35 L301.70 185.36 L302.00 185.37 L302.30 185.38 L302.60 185.39 L302.90 185.39 L303.20 185.40 L303.50 185.41 L303.80 185.42 L304.10 185.43 L304.40 185.44 L304.70 185.45 L305.00 185.46 L305.30 185.46 L305.60 185.47 L305.90 185.48 L306.20 185.49 L306.50 185.50 L306.80 185.50 L307.10 185.51 L307.40 185.52 L307.70 185.53 L308.00 185.53 L308.30 185.54 L308.60 185.55 L308.90 185.56 L309.20 185.56 L309.50 185.57 L309.80 185.58 L310.10 185.58 L310.40 185.59 L310.70 185.59 L311.00 185.60 L311.30 185.61 L311.60 185.61 L311.90 185.62 L312.20 185.62 L312.50 185.63 L312.80 185.64 L313.10 185.64 L313.40 185.65 L313.70 185.65 L314.00 185.66 L314.30 185.66 L314.60 185.67 L314.90 185.67 L315.20 185.68 L315.50 185.68 L315.80 185.69 L316.10 185.69 L316.40 185.70 L316.70 185.70 L317.00 185.70 L317.30 185.71 L317.60 185.71 L317.90 185.72 L318.20 185.72 L318.50 185.73 L318.80 185.73 L319.10 185.73 L319.40 185.74 L319.70 185.74 L320.00 185.74 L320.30 185.75 L320.60 185.75 L320.90 185.76 L321.20 185.76 L321.50 185.76 L321.80 185.77 L322.10 185.77 L322.40 185.77 L322.70 185.78 L323.00 185.78 L323.30 185.78 L323.60 185.78 L323.90 185.79 L324.20 185.79 L324.50 185.79 L324.80 185.80 L325.10 185.80 L325.40 185.80 L325.70 185.80 L326.00 185.81 L326.30 185.81 L326.60 185.81 L326.90 185.81 L327.20 185.82 L327.50 185.82 L327.80 185.82 L328.10 185.82 L328.40 185.83 L328.70 185.83 L329.00 185.83 L329.30 185.83 L329.60 185.83 L329.90 185.84 L330.20 185.84 L330.50 185.84 L330.80 185.84 L331.10 185.84 L331.40 185.85 L331.70 185.85 L332.00 185.85 L332.30 185.85 L332.60 185.85 L332.90 185.85 L333.20 185.86 L333.50 185.86 L333.80 185.86 L334.10 185.86 L334.40 185.86 L334.70 185.86 L335.00 185.87 L335.30 185.87 L335.60 185.87 L335.90 185.87 L336.20 185.87 L336.50 185.87 L336.80 185.87 L337.10 185.88 L337.40 185.88 L337.70 185.88 L338.00 185.88 L338.30 185.88 L338.60 185.88 L338.90 185.88 L339.20 185.88 L339.50 185.89 L339.80 185.89 L340.10 185.89 L340.40 185.89 L340.70 185.89 L341.00 185.89 L341.30 185.89 L341.60 185.89 L341.90 185.89 L342.20 185.90 L342.50 185.90 L342.80 185.90 L343.10 185.90 L343.40 185.90 L343.70 185.90 L344.00 185.90 L344.30 185.90 L344.60 185.97 L344.90 185.97 L345.20 185.99 L345.50 186.01 L345.80 186.01 L346.10 185.98 L346.40 185.91 L346.70 185.81 L347.00 185.68 L347.30 185.55 L347.60 185.45 L347.90 185.41 L348.20 185.43 L348.50 185.53 L348.80 185.68 L349.10 185.85 L349.40 186.01 L349.70 186.12 L350.00 186.14 L350.30 186.05 L350.60 185.86 L350.90 185.59 L351.20 185.29 L351.50 185.02 L351.80 184.82 L352.10 184.74 L352.40 184.80 L352.70 184.99 L353.00 185.28 L353.30 185.63 L353.60 185.96 L353.90 186.19 L354.20 186.28 L354.50 186.20 L354.80 185.97 L355.10 185.61 L355.40 185.20 L355.70 184.82 L356.00 184.53 L356.30 184.41 L356.60 184.47 L356.90 184.71 L357.20 185.10 L357.50 185.55 L357.80 185.99 L358.10 186.32 L358.40 186.48 L358.70 186.44 L359.00 186.20 L359.30 185.80 L359.60 185.33 L359.90 184.86 L360.20 184.49 L360.50 184.30 L360.80 184.31 L361.10 184.53 L361.40 184.92 L361.70 185.40 L362.00 185.88 L362.30 186.27 L362.60 186.50 L362.90 186.51 L363.20 186.32 L363.50 185.96 L363.80 185.49 L364.10 185.01 L364.40 184.61 L364.70 184.37 L365.00 184.33 L365.30 184.48 L365.60 184.81 L365.90 185.25 L366.20 185.70 L366.50 186.09 L366.80 186.34 L367.10 186.40 L367.40 186.28 L367.70 186.00 L368.00 185.61 L368.30 185.20 L368.60 184.84 L368.90 184.60 L369.20 184.52 L369.50 184.61 L369.80 184.84 L370.10 185.17 L370.40 185.52 L370.70 185.83 L371.00 186.05 L371.30 186.13 L371.60 186.07 L371.90 185.89 L372.20 185.64 L372.50 185.36 L372.80 185.11 L373.10 184.94 L373.40 184.86 L373.70 184.90 L374.00 185.02 L374.30 185.21 L374.60 185.40 L374.90 185.58 L375.20 185.70 L375.50 185.74 L375.80 185.72 L376.10 185.64 L376.40 185.53 L376.70 185.42 L377.00 185.33 L377.30 185.28 L377.60 185.27 L377.90 185.30 L378.20 185.34 L378.50 185.38 L378.80 185.40 L379.10 185.37 L379.40 185.31 L379.70 185.25 L380.00 185.20 L380.30 185.15 L380.60 185.11 L380.90 185.07 L381.20 185.03 L381.50 184.99 L381.80 184.96 L382.10 184.93 L382.40 184.90 L382.70 184.88 L383.00 184.85 L383.30 184.83 L383.60 184.81 L383.90 184.79 L384.20 184.78 L384.50 184.76 L384.80 184.75 L385.10 184.74 L385.40 184.73 L385.70 184.72 L386.00 184.72 L386.30 184.71 L386.60 184.71 L386.90 184.71 L387.20 184.70 L387.50 184.70 L387.80 184.70 L388.10 184.70 L388.40 184.71 L388.70 184.71 L389.00 184.71 L389.30 184.72 L389.60 184.72 L389.90 184.73 L390.20 184.73 L390.50 184.74 L390.80 184.75 L391.10 184.76 L391.40 184.76 L391.70 184.77 L392.00 184.78 L392.30 184.79 L392.60 184.80 L392.90 184.81 L393.20 184.82 L393.50 184.83 L393.80 184.84 L394.10 184.85 L394.40 184.87 L394.70 184.88 L395.00 184.89 L395.30 184.90 L395.60 184.91 L395.90 184.92 L396.20 184.94 L396.50 184.95 L396.80 184.96 L397.10 184.97 L397.40 184.98 L397.70 185.00 L398.00 185.01 L398.30 185.02 L398.60 185.03 L398.90 185.05 L399.20 185.06 L399.50 185.07 L399.80 185.08 L400.10 185.09 L400.40 185.11 L400.70 185.12 L401.00 185.13 L401.30 185.14 L401.60 185.15 L401.90 185.17 L402.20 185.18 L402.50 185.19 L402.80 185.20 L403.10 185.21 L403.40 185.22 L403.70 185.23 L404.00 185.25 L404.30 185.26 L404.60 185.27 L404.90 185.28 L405.20 185.29 L405.50 185.30 L405.80 185.31 L406.10 185.32 L406.40 185.33 L406.70 185.34 L407.00 185.35 L407.30 185.36 L407.60 185.37 L407.90 185.38 L408.20 185.39 L408.50 185.40 L408.80 185.41 L409.10 185.42 L409.40 185.42 L409.70 185.43 L410.00 185.44 L410.30 185.45 L410.60 185.46 L410.90 185.47 L411.20 185.47 L411.50 185.48 L411.80 185.49 L412.10 185.50 L412.40 185.51 L412.70 185.51 L413.00 185.52 L413.30 185.53 L413.60 185.54 L413.90 185.54 L414.20 185.55 L414.50 185.56 L414.80 185.56 L415.10 185.57 L415.40 185.58 L415.70 185.58 L416.00 185.59 L416.30 185.60 L416.60 185.60 L416.90 185.61 L417.20 185.61 L417.50 185.62 L417.80 185.63 L418.10 185.63 L418.40 185.64 L418.70 185.64 L419.00 185.65 L419.30 185.65 L419.60 185.66 L419.90 185.66 L420.20 185.67 L420.50 185.67 L420.80 185.68 L421.10 185.68 L421.40 185.69 L421.70 185.69 L422.00 185.70 L422.30 185.70 L422.60 185.71 L422.90 185.71 L423.20 185.71 L423.50 185.72 L423.80 185.72 L424.10 185.73 L424.40 185.73 L424.70 185.73 L425.00 185.74 L425.30 185.74 L425.60 185.75 L425.90 185.75 L426.20 185.75 L426.50 185.76 L426.80 185.76 L427.10 185.76 L427.40 185.77 L427.70 185.77 L428.00 185.77 L428.30 185.78 L428.60 185.78 L428.90 185.78 L429.20 185.79 L429.50 185.79 L429.80 185.79 L430.10 185.79 L430.40 185.80 L430.70 185.80 L431.00 185.80 L431.30 185.80 L431.60 185.81 L431.90 185.81 L432.20 185.81 L432.50 185.81 L432.80 185.82 L433.10 185.82 L433.40 185.82 L433.70 185.82 L434.00 185.83 L434.30 185.83 L434.60 185.83 L434.90 185.83 L435.20 185.83 L435.50 185.84 L435.80 185.84 L436.10 185.84 L436.40 185.84 L436.70 185.84 L437.00 185.85 L437.30 185.85 L437.60 185.85 L437.90 185.85 L438.20 185.85 L438.50 185.86 L438.80 185.86 L439.10 185.86 L439.40 185.86 L439.70 185.86 L440.00 185.86 L440.30 185.86 L440.60 185.87 L440.90 185.87 L441.20 185.87 L441.50 185.87 L441.80 185.87 L442.10 185.87 L442.40 185.88 L442.70 185.88 L443.00 185.88 L443.30 185.88 L443.60 185.88 L443.90 185.88 L444.20 185.88 L444.50 185.88 L444.80 185.89 L445.10 185.89 L445.40 185.89 L445.70 185.89 L446.00 185.89 L446.30 185.89 L446.60 185.89 L446.90 185.89 L447.20 185.89 L447.50 185.90 L447.80 185.90 L448.10 185.90 L448.40 185.90 L448.70 185.90 L449.00 185.90 L449.30 185.90 L449.60 185.90 L449.90 185.90 L450.20 185.96 L450.50 185.97 L450.80 185.99 L451.10 186.01 L451.40 186.01 L451.70 185.97 L452.00 185.89 L452.30 185.77 L452.60 185.64 L452.90 185.52 L453.20 185.43 L453.50 185.41 L453.80 185.45 L454.10 185.56 L454.40 185.73 L454.70 185.90 L455.00 186.05 L455.30 186.14 L455.60 186.12 L455.90 186.00 L456.20 185.79 L456.50 185.51 L456.80 185.21 L457.10 184.95 L457.40 184.78 L457.70 184.74 L458.00 184.84 L458.30 185.06 L458.60 185.38 L458.90 185.73 L459.20 186.04 L459.50 186.23 L459.80 186.28 L460.10 186.15 L460.40 185.88 L460.70 185.50 L461.00 185.09 L461.30 184.72 L461.60 184.48 L461.90 184.40 L462.20 184.52 L462.50 184.81 L462.80 185.22 L463.10 185.68 L463.40 186.09 L463.70 186.38 L464.00 186.49 L464.30 186.39 L464.60 186.10 L464.90 185.67 L465.20 185.19 L465.50 184.74 L465.80 184.42 L466.10 184.28 L466.40 184.35 L466.70 184.62 L467.00 185.05 L467.30 185.54 L467.60 186.00 L467.90 186.35 L468.20 186.52 L468.50 186.48 L468.80 186.23 L469.10 185.83 L469.40 185.35 L469.70 184.89 L470.00 184.53 L470.30 184.34 L470.60 184.35 L470.90 184.56 L471.20 184.93 L471.50 185.38 L471.80 185.82 L472.10 186.17 L472.40 186.38 L472.70 186.39 L473.00 186.22 L473.30 185.90 L473.60 185.50 L473.90 185.09 L474.20 184.76 L474.50 184.56 L474.80 184.53 L475.10 184.66 L475.40 184.93 L475.70 185.27 L476.00 185.61 L476.30 185.90 L476.60 186.08 L476.90 186.13 L477.20 186.03 L477.50 185.83 L477.80 185.56 L478.10 185.28 L478.40 185.05 L478.70 184.90 L479.00 184.86 L479.30 184.93 L479.60 185.07 L479.90 185.26 L480.20 185.46 L480.50 185.62 L480.80 185.72 L481.10 185.74 L481.40 185.70 L481.70 185.61 L482.00 185.50 L482.30 185.39 L482.60 185.31 L482.90 185.28 L483.20 185.28 L483.50 185.31 L483.80 185.35 L484.10 185.39 L484.40 185.40 L484.70 185.35 L485.00 185.29 L485.30 185.24 L485.60 185.19 L485.90 185.14 L486.20 185.10 L486.50 185.06 L486.80 185.02 L487.10 184.98 L487.40 184.95 L487.70 184.92 L488.00 184.89 L488.30 184.87 L488.60 184.85 L488.90 184.82 L489.20 184.81 L489.50 184.79 L489.80 184.77 L490.10 184.76 L490.40 184.75 L490.70 184.74 L491.00 184.73 L491.30 184.72 L491.60 184.72 L491.90 184.71 L492.20 184.71 L492.50 184.70 L492.80 184.70 L493.10 184.70 L493.40 184.70 L493.70 184.71 L494.00 184.71 L494.30 184.71 L494.60 184.71 L494.90 184.72 L495.20 184.72 L495.50 184.73 L495.80 184.74 L496.10 184.74 L496.40 184.75 L496.70 184.76 L497.00 184.77 L497.30 184.78 L497.60 184.79 L497.90 184.79 L498.20 184.80 L498.50 184.81 L498.80 184.83 L499.10 184.84 L499.40 184.85 L499.70 184.86 L500.00 184.87 L500.30 184.88 L500.60 184.89 L500.90 184.90 L501.20 184.92 L501.50 184.93 L501.80 184.94 L502.10 184.95 L502.40 184.96 L502.70 184.98 L503.00 184.99 L503.30 185.00 L503.60 185.01 L503.90 185.03 L504.20 185.04 L504.50 185.05 L504.80 185.06 L505.10 185.07 L505.40 185.09 L505.70 185.10 L506.00 185.11 L506.30 185.12 L506.60 185.13 L506.90 185.15 L507.20 185.16 L507.50 185.17 L507.80 185.18 L508.10 185.19 L508.40 185.20 L508.70 185.22 L509.00 185.23 L509.30 185.24 L509.60 185.25 L509.90 185.26 L510.20 185.27 L510.50 185.28 L510.80 185.29 L511.10 185.30 L511.40 185.31 L511.70 185.32 L512.00 185.33 L512.30 185.34 L512.60 185.35 L512.90 185.36 L513.20 185.37 L513.50 185.38 L513.80 185.39 L514.10 185.40 L514.40 185.41 L514.70 185.42 L515.00 185.43 L515.30 185.44 L515.60 185.44 L515.90 185.45 L516.20 185.46 L516.50 185.47 L516.80 185.48 L517.10 185.49 L517.40 185.49 L517.70 185.50 L518.00 185.51 L518.30 185.52 L518.60 185.52 L518.90 185.53 L519.20 185.54 L519.50 185.55 L519.80 185.55 L520.10 185.56 L520.40 185.57 L520.70 185.57 L521.00 185.58 L521.30 185.59 L521.60 185.59 L521.90 185.60 L522.20 185.60 L522.50 185.61 L522.80 185.62 L523.10 185.62 L523.40 185.63 L523.70 185.63 L524.00 185.64 L524.30 185.64 L524.60 185.65 L524.90 185.65 L525.20 185.66 L525.50 185.67 L525.80 185.67 L526.10 185.68 L526.40 185.68 L526.70 185.68 L527.00 185.69 L527.30 185.69 L527.60 185.70 L527.90 185.70 L528.20 185.71 L528.50 185.71 L528.80 185.72 L529.10 185.72 L529.40 185.72 L529.70 185.73 L530.00 185.73 L530.30 185.74 L530.60 185.74 L530.90 185.74 L531.20 185.75 L531.50 185.75 L531.80 185.75 L532.10 185.76 L532.40 185.76 L532.70 185.76 L533.00 185.77 L533.30 185.77 L533.60 185.77 L533.90 185.78 L534.20 185.78" stroke="#0072BD" stroke-width="0.6" stroke-opacity="0.9"/>
</g>
<g stroke="#6e6e6e" stroke-width="0.9" fill="none">
<rect x="30.7" y="15.7" width="503.8" height="397.3"/>
<path d="M114.7 413.0 v-4.5 M114.7 15.7 v4.5"/>
<path d="M198.6 413.0 v-4.5 M198.6 15.7 v4.5"/>
<path d="M282.6 413.0 v-4.5 M282.6 15.7 v4.5"/>
<path d="M366.6 413.0 v-4.5 M366.6 15.7 v4.5"/>
<path d="M450.5 413.0 v-4.5 M450.5 15.7 v4.5"/>
<path d="M30.7 72.5 h4.5 M534.5 72.5 h-4.5"/>
<path d="M30.7 129.2 h4.5 M534.5 129.2 h-4.5"/>
<path d="M30.7 186.0 h4.5 M534.5 186.0 h-4.5"/>
<path d="M30.7 242.7 h4.5 M534.5 242.7 h-4.5"/>
<path d="M30.7 299.5 h4.5 M534.5 299.5 h-4.5"/>
<path d="M30.7 356.2 h4.5 M534.5 356.2 h-4.5"/>
</g>
<g font-family="'Liberation Sans', sans-serif" font-size="13" fill="#262626">
<text x="30.7" y="431.9" text-anchor="middle">0</text>
<text x="114.7" y="431.9" text-anchor="middle">5</text>
<text x="198.6" y="431.9" text-anchor="middle">10</text>
<text x="282.6" y="431.9" text-anchor="middle">15</text>
<text x="366.6" y="431.9" text-anchor="middle">20</text>
<text x="450.5" y="431.9" text-anchor="middle">25</text>
<text x="534.5" y="431.9" text-anchor="middle">30</text>
<text x="25.6" y="20.7" text-anchor="end">6</text>
<text x="25.6" y="77.5" text-anchor="end">4</text>
<text x="25.6" y="134.2" text-anchor="end">2</text>
<text x="25.6" y="191.0" text-anchor="end">0</text>
<text x="25.6" y="247.7" text-anchor="end">−2</text>
<text x="25.6" y="304.5" text-anchor="end">−4</text>
<text x="25.6" y="361.2" text-anchor="end">−6</text>
<text x="25.6" y="418.0" text-anchor="end">−8</text>
</g>
<text x="283" y="452" text-anchor="middle" font-family="'Liberation Sans', sans-serif" font-size="14" letter-spacing="0.25" fill="#262626">Time (sec)</text>
<rect x="467.5" y="24.5" width="58" height="34" fill="#fff" stroke="#666" stroke-width="0.8"/>
<path d="M471.5 34.2 H506" stroke="#0072BD" stroke-width="0.7" fill="none"/>
<path d="M471.5 48 H506" stroke="#D95319" stroke-width="0.7" stroke-dasharray="1 4 1 5 8 4 4 3 4 3" fill="none"/>
<g font-family="'Liberation Serif', serif" font-style="italic" font-size="12" fill="#444">
<text x="510.3" y="36.9">z<tspan font-style="normal" font-size="8" dy="2">1</tspan></text>
<text x="510.3" y="50.7">z<tspan font-style="normal" font-size="8" dy="2">2</tspan></text>
</g>
</svg>
</body></html>
